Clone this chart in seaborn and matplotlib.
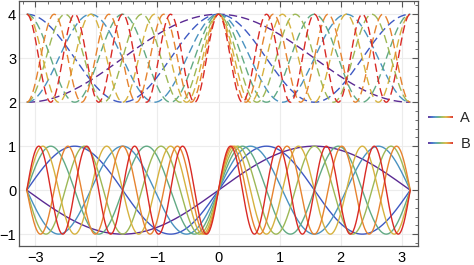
import numpy as np
import pandas as pd
import matplotlib
matplotlib.use("Agg")
import matplotlib.pyplot as plt
import seaborn as sns
from matplotlib.colors import LinearSegmentedColormap
from matplotlib.collections import LineCollection
from matplotlib.legend_handler import HandlerBase
from matplotlib.lines import Line2D
from matplotlib.ticker import MultipleLocator

# ---- data ----
frequencies = [1, 2, 3, 4, 5, 6, 7, 8]          # k in sin(k x), 3 + cos(k x)
offset_A = 3.0                                  # series A: offset + cos(k x)
x_range = [-np.pi, np.pi]
series_labels = ["A", "B"]
x_ticks = [-3, -2, -1, 0, 1, 2, 3]
y_ticks = [-1, 0, 1, 2, 3, 4]

rainbow = LinearSegmentedColormap.from_list(
    "mma_rainbow",
    [(0.00, "#5b2a93"), (0.15, "#3c5cc6"), (0.30, "#4b97bf"), (0.45, "#66ad7a"),
     (0.60, "#a9ba4e"), (0.72, "#d8b23e"), (0.86, "#e6832f"), (1.00, "#d92a25")])

xs = np.linspace(x_range[0], x_range[1], 600)
rows_a, rows_b = [], []
for k in frequencies:
    rows_a.append(pd.DataFrame({"x": xs, "y": offset_A + np.cos(k * xs), "k": k}))
    rows_b.append(pd.DataFrame({"x": xs, "y": np.sin(k * xs), "k": k}))
df_a = pd.concat(rows_a, ignore_index=True)
df_b = pd.concat(rows_b, ignore_index=True)

pal = {k: rainbow(i / (len(frequencies) - 1)) for i, k in enumerate(frequencies)}

# ---- figure ----
sns.set_theme(style="white")
plt.rcParams["font.family"] = ["Liberation Sans", "DejaVu Sans"]
fig = plt.figure(figsize=(4.74, 2.65), dpi=100)
ax = fig.add_axes([0.040, 0.070, 0.842, 0.926])

sns.lineplot(data=df_a, x="x", y="y", hue="k", palette=pal, estimator=None,
             sort=False, legend=False, ax=ax, linewidth=1.0,
             linestyle=(0, (6.0, 3.0)))
sns.lineplot(data=df_b, x="x", y="y", hue="k", palette=pal, estimator=None,
             sort=False, legend=False, ax=ax, linewidth=1.0)

ax.set_xlim(-3.27, 3.27)
ax.set_ylim(-1.28, 4.30)
ax.set_xticks(x_ticks)
ax.set_yticks(y_ticks)
ax.set_xticklabels([("\u2212%d" % -t) if t < 0 else str(t) for t in x_ticks])
ax.set_yticklabels([("\u2212%d" % -t) if t < 0 else str(t) for t in y_ticks])
ax.xaxis.set_minor_locator(MultipleLocator(0.2))
ax.yaxis.set_minor_locator(MultipleLocator(0.2))
ax.set_xlabel("")
ax.set_ylabel("")
ax.grid(True, which="major", color="#ececec", linewidth=0.8)
ax.set_axisbelow(True)
frame_col = "#555555"
for s in ax.spines.values():
    s.set_color(frame_col)
    s.set_linewidth(0.9)
ax.tick_params(which="both", direction="in", top=True, right=True,
               color=frame_col, labelsize=10.5, labelcolor="black")
ax.tick_params(which="major", length=4, width=0.8, pad=3)
ax.tick_params(axis="y", which="major", pad=2)
ax.tick_params(which="minor", length=2, width=0.6)


class GradientHandler(HandlerBase):
    def __init__(self, cmap):
        super().__init__()
        self.cmap = cmap

    def create_artists(self, legend, orig_handle, xdescent, ydescent, width,
                       height, fontsize, trans):
        px = np.linspace(0, width, 40) - xdescent
        py = np.full_like(px, height / 2 - ydescent)
        pts = np.array([px, py]).T.reshape(-1, 1, 2)
        segs = np.concatenate([pts[:-1], pts[1:]], axis=1)
        lc = LineCollection(segs, colors=self.cmap(np.linspace(0, 1, len(segs))),
                            linewidth=1.3, transform=trans)
        return [lc]


handles = [Line2D([], []), Line2D([], [])]
fig.legend(handles, series_labels,
           handler_map={h: GradientHandler(rainbow) for h in handles},
           loc="center left", bbox_to_anchor=(0.902, 0.505), frameon=False,
           fontsize=10.5, handlelength=1.75, handletextpad=0.5, labelspacing=0.8,
           borderpad=0.0, borderaxespad=0.0)

fig.savefig("out.png", dpi=100)
